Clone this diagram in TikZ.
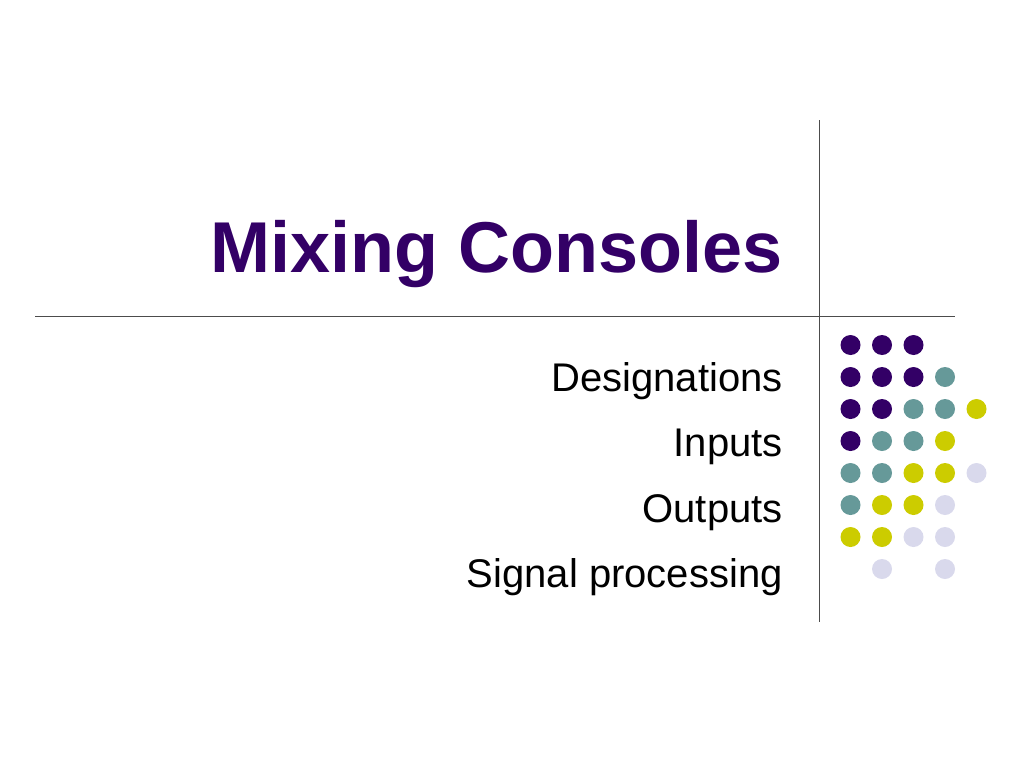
\documentclass[tikz,border=0pt]{standalone}
\usepackage{fontspec}
\setmainfont{Liberation Sans}
\definecolor{dkpurple}{HTML}{330066}
\definecolor{dkteal}{HTML}{669999}
\definecolor{dkyellow}{HTML}{CCCC00}
\definecolor{ltlav}{HTML}{D9D9EC}
\tikzset{every picture/.style={line width=0.75pt}}
\begin{document}
\begin{tikzpicture}[x=1pt,y=1pt,yscale=-1,
  item/.style={anchor=base east,inner sep=0pt,font=\fontsize{40}{48}\selectfont},
  dot/.style={circle,inner sep=0pt,minimum size=20pt}]
\useasboundingbox (0,0) rectangle (1024,768);

%Straight Lines
\draw [color=black!70] (819,120) coordinate (vt) -- (819,622) coordinate (vb) ;
%Straight Lines
\draw [color=black!70] (35,316) coordinate (hl) -- (955,316) coordinate (hr) ;

% Text Node
\node (title) [anchor=base east,inner sep=0pt,text=dkpurple,font=\fontsize{72}{80}\selectfont\bfseries] at (783,272) {Mixing Consoles};
% Text Node
\node (des) [item] at (783,391) {Designations};
\node (inp) [item] at (783,456) {Inputs};
\node (out) [item] at (783,522) {Outputs};
\node (sig) [item] at (783,587) {Signal processing};

% Dots
\foreach \row/\cols in {1/{1/dkpurple,2/dkpurple,3/dkpurple},
  2/{1/dkpurple,2/dkpurple,3/dkpurple,4/dkteal},
  3/{1/dkpurple,2/dkpurple,3/dkteal,4/dkteal,5/dkyellow},
  4/{1/dkpurple,2/dkteal,3/dkteal,4/dkyellow},
  5/{1/dkteal,2/dkteal,3/dkyellow,4/dkyellow,5/ltlav},
  6/{1/dkteal,2/dkyellow,3/dkyellow,4/ltlav},
  7/{1/dkyellow,2/dkyellow,3/ltlav,4/ltlav},
  8/{2/ltlav,4/ltlav}}
  \foreach \c/\col in \cols
    \node (d\row\c) [dot,fill=\col] at ({819+31.5*\c},{313+32*\row}) {};

\end{tikzpicture}
\end{document}
